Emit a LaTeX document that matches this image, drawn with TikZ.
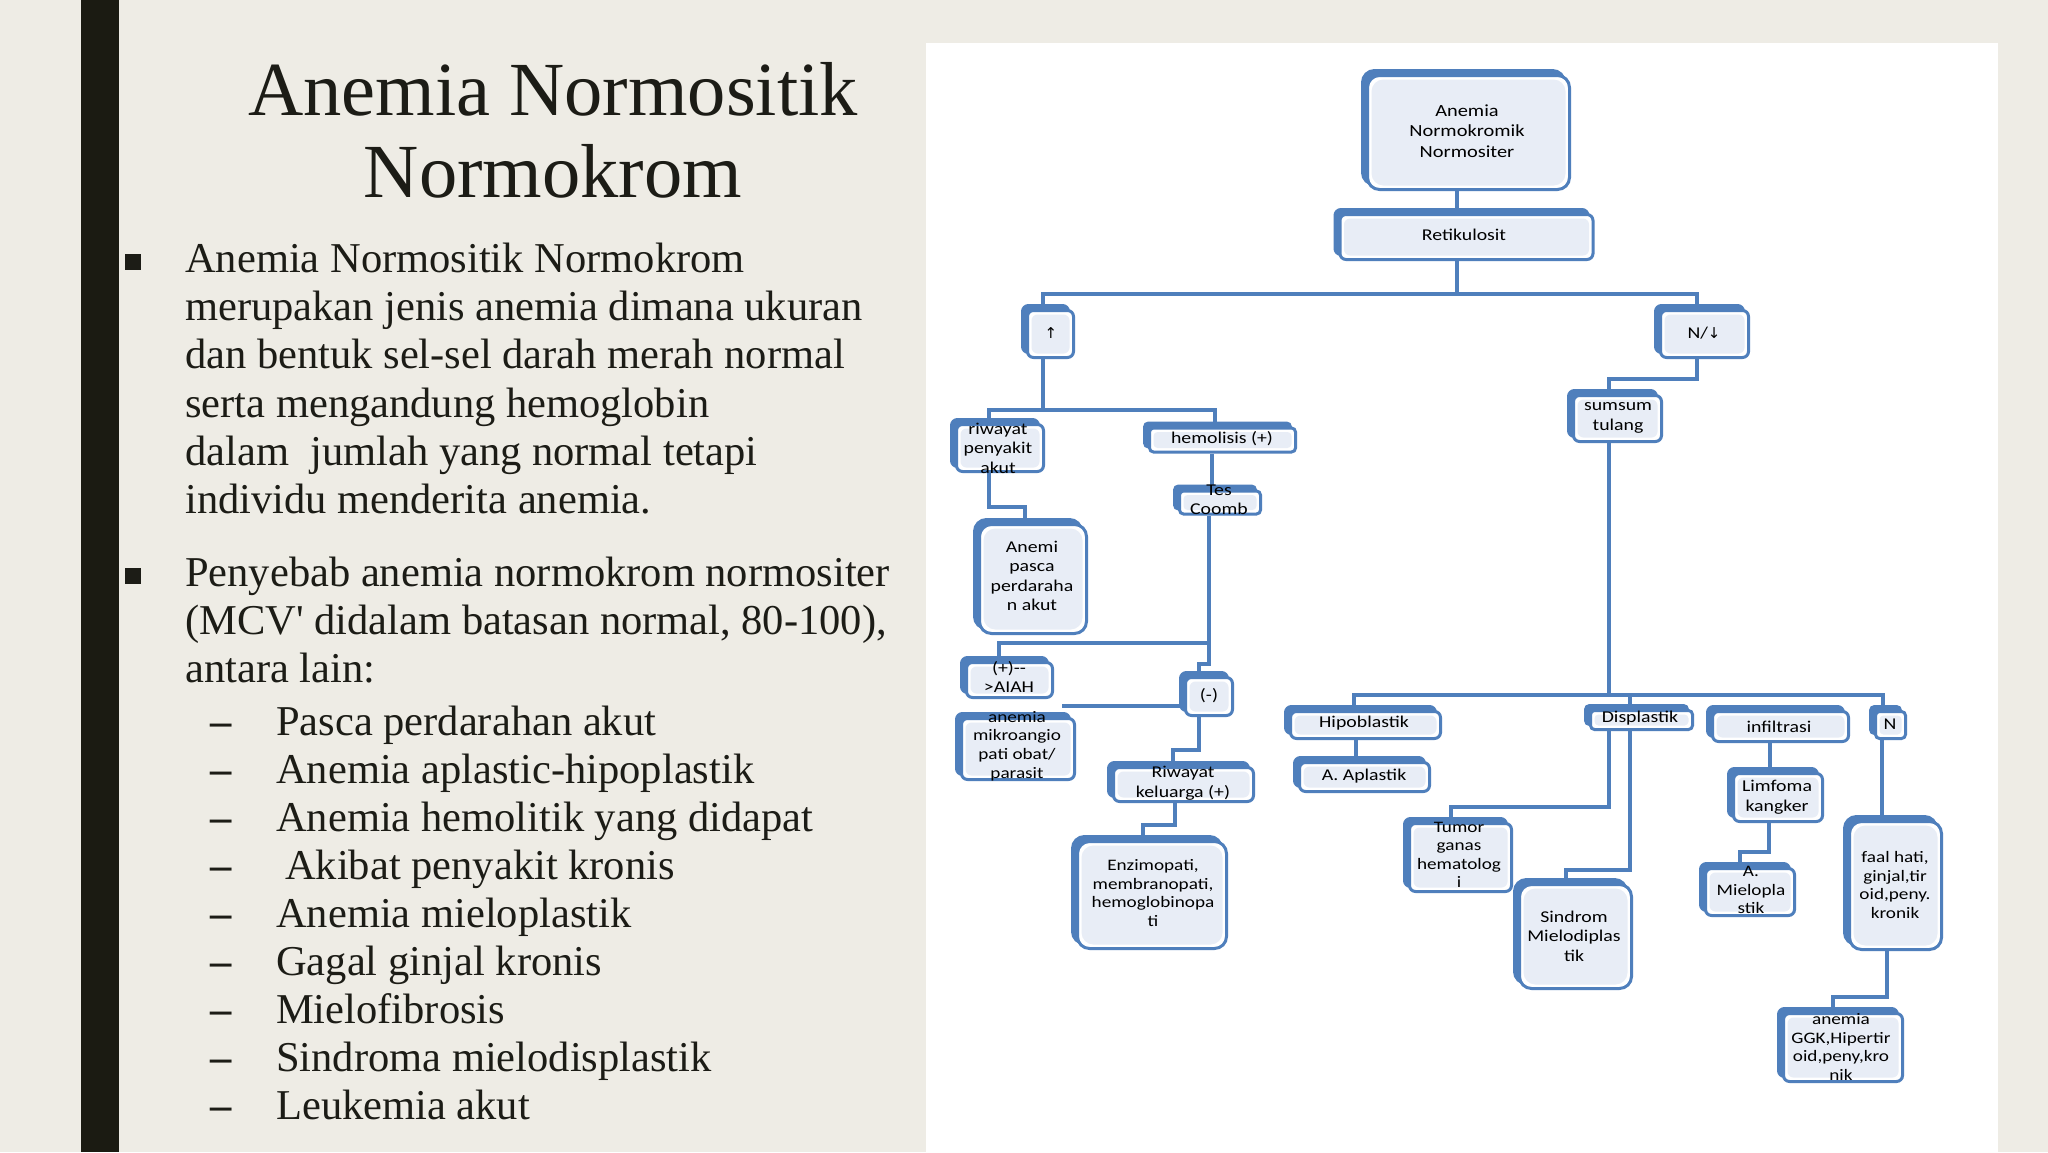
\documentclass[tikz,border=0pt]{standalone}
\usepackage{fontspec}
\setmainfont{Liberation Serif}
\newfontfamily\rawserif{Liberation Serif}
\newfontfamily\dfont[FakeStretch=1.2]{Carlito}
\newfontfamily\symfont{DejaVu Sans}
\usetikzlibrary{shadows}
\definecolor{bgc}{HTML}{EEECE5}
\definecolor{barc}{HTML}{1B1B12}
\definecolor{ink}{HTML}{1C1C16}
\definecolor{bblue}{HTML}{4F7FBC}
\definecolor{bfill}{HTML}{E8EDF6}
\pgfdeclarelayer{back}
\pgfdeclarelayer{lines}
\pgfsetlayers{back,lines,main}
\tikzset{
  box/.style={draw=bblue, line width=3pt, fill=white, rounded corners=#1, inner sep=0pt,
    general shadow={shadow xshift=-5pt, shadow yshift=5pt, fill=bblue, draw=bblue},
    path picture={\fill[bfill] ([shift={(4pt,-4pt)}]path picture bounding box.north west) rectangle ([shift={(-4pt,4pt)}]path picture bounding box.south east);}},
  box/.default=6pt,
  lbl/.style={inner sep=0pt, align=center, text=black, font=\dfont\fontsize{16.5}{19.5}\selectfont},
  conn/.style={draw=bblue, line width=4.5pt},
  body/.style={inner sep=0pt, anchor=base west, text=ink, font=\fontsize{42.5}{48}\selectfont},
  ttl/.style={inner sep=0pt, anchor=base, text=ink, font=\fontsize{76.5}{80}\selectfont},
}
\begin{document}
\begin{tikzpicture}[x=1pt,y=-1pt]
\useasboundingbox (0,0) rectangle (2048,1152);
\begin{pgfonlayer}{back}
\fill[bgc] (0,0) rectangle (2048,1152);
\fill[barc] (81,0) rectangle (119,1152);
\fill[white] (926,43) rectangle (1998,1152);
\end{pgfonlayer}

% ---- slide text ----
\node[ttl] (t1) at (553,115) {Anemia Normositik};
\node[ttl] (t2) at (553,197) {Normokrom};

\node[fill=ink, minimum size=16pt, inner sep=0pt] (bul1) at (133,262) {};
\node[body] (a1) at (185,272) {Anemia Normositik Normokrom};
\node[body] (a2) at (185,320) {merupakan jenis anemia dimana ukuran};
\node[body] (a3) at (185,368) {dan bentuk sel-sel darah merah normal};
\node[body] (a4) at (185,417) {serta mengandung hemoglobin};
\node[body] (a5) at (185,465) {dalam\ \ jumlah yang normal tetapi};
\node[body] (a6) at (185,513) {individu menderita anemia.};

\node[fill=ink, minimum size=16pt, inner sep=0pt] (bul2) at (133,576) {};
\node[body] (b1) at (185,586) {Penyebab anemia normokrom normositer};
\node[body] (b2) at (185,634) {(MCV{\rawserif'} didalam batasan normal, 80-100),};
\node[body] (b3) at (185,682) {antara lain:};

\foreach \i/\y/\t/\xx in {1/735/Pasca perdarahan akut/276,
  2/783/Anemia aplastic-hipoplastik/276,
  3/831/Anemia hemolitik yang didapat/276,
  4/879/Akibat penyakit kronis/285,
  5/927/Anemia mieloplastik/276,
  6/975/Gagal ginjal kronis/276,
  7/1023/Mielofibrosis/276,
  8/1071/Sindroma mielodisplastik/276,
  9/1119/Leukemia akut/276}{
  \node[body] (d\i) at (210,\y) {\textbf{–}};
  \node[body] (s\i) at (\xx,\y) {\t};
}

% ---- diagram boxes ----
\node[box=12pt, minimum width=202pt, minimum height=114pt] (top) at (1468.5,132.5) {};
\node[box, minimum width=253pt, minimum height=45pt] (retik) at (1466.5,237) {};
\node[box, minimum width=46pt, minimum height=47pt] (up) at (1050.5,334) {};
\node[box, minimum width=88pt, minimum height=47pt] (ndown) at (1704.5,334) {};
\node[box, minimum width=87pt, minimum height=47pt] (riw) at (1000,448) {};
\node[box=4pt, minimum width=146pt, minimum height=24pt] (hemo) at (1222.5,440) {};
\node[box=12pt, minimum width=107pt, minimum height=109pt] (pasca) at (1033,579) {};
\node[box=4pt, minimum width=81pt, minimum height=23pt] (tes) at (1220,502.5) {};
\node[box, minimum width=86pt, minimum height=35pt] (aiah) at (1009.5,680) {};
\node[box, minimum width=47pt, minimum height=38pt] (minus) at (1209,696.5) {};
\node[box, minimum width=113pt, minimum height=61pt] (mikro) at (1018,749) {};
\node[box, minimum width=140pt, minimum height=34pt] (rk) at (1183.5,784.5) {};
\node[box=12pt, minimum width=149pt, minimum height=107pt] (enz) at (1152,895) {};
\node[box, minimum width=88pt, minimum height=46pt] (sum) at (1617.5,418.5) {};
\node[box, minimum width=150pt, minimum height=27pt] (hipo) at (1365.5,725) {};
\node[box, minimum width=130pt, minimum height=29pt] (aplas) at (1364.5,777) {};
\node[box=4pt, minimum width=102pt, minimum height=19pt] (disp) at (1641.5,720) {};
\node[box, minimum width=136pt, minimum height=30pt] (infil) at (1780.5,726.5) {};
\node[box=4pt, minimum width=30pt, minimum height=27pt] (nn) at (1890.5,725) {};
\node[box, minimum width=102pt, minimum height=68pt] (tumor) at (1460.5,857.5) {};
\node[box=12pt, minimum width=112pt, minimum height=104pt] (sind) at (1575.5,936.5) {};
\node[box, minimum width=89pt, minimum height=48pt] (limf) at (1778,797.5) {};
\node[box, minimum width=89pt, minimum height=47pt] (amiel) at (1750,892) {};
\node[box=12pt, minimum width=92pt, minimum height=128pt] (faal) at (1895.5,885.5) {};
\node[box, minimum width=119pt, minimum height=68pt] (ggk) at (1843,1047.5) {};

% ---- labels ----
\node[lbl, font=\dfont\fontsize{17}{20.5}\selectfont] (topT) at (1467,131) {Anemia\\Normokromik\\Normositer};
\node[lbl] (retikT) at (1464,235) {Retikulosit};
\node[lbl, font=\symfont\fontsize{15}{18}\selectfont] (upT) at (1051,333) {↑};
\node[lbl] (ndownT) at (1704,333) {N/{\symfont\fontsize{15}{18}\selectfont↓}};
\node[lbl] (riwT) at (998,448) {riwayat\\penyakit\\akut};
\node[lbl] (hemoT) at (1222,439) {hemolisis (+)};
\node[lbl] (pascaT) at (1032,576) {Anemi\\pasca\\perdaraha\\n akut};
\node[lbl] (tesT) at (1219,500) {Tes\\Coomb};
\node[lbl] (aiahT) at (1009,677) {(+)--\\>AIAH};
\node[lbl] (minusT) at (1209,696) {(-)};
\node[lbl, font=\dfont\fontsize{16}{18.6}\selectfont] (mikroT) at (1017,746) {anemia\\mikroangio\\pati obat/\\parasit};
\node[lbl] (rkT) at (1183,783) {Riwayat\\keluarga (+)};
\node[lbl, font=\dfont\fontsize{16}{18.5}\selectfont] (enzT) at (1153,893) {Enzimopati,\\membranopati,\\hemoglobinopa\\ti};
\node[lbl] (sumT) at (1618,418) {sumsum\\tulang};
\node[lbl] (hipoT) at (1364,723) {Hipoblastik};
\node[lbl] (aplasT) at (1364,776) {A. Aplastik};
\node[lbl] (dispT) at (1640,718) {Displastik};
\node[lbl] (infilT) at (1779,727) {infiltrasi};
\node[lbl] (nnT) at (1890,724) {N};
\node[lbl, font=\dfont\fontsize{16}{18.3}\selectfont] (tumorT) at (1459,855) {Tumor\\ganas\\hematolog\\i};
\node[lbl] (sindT) at (1574,936) {Sindrom\\Mielodiplas\\tik};
\node[lbl] (limfT) at (1777,797) {Limfoma\\kangker};
\node[lbl, font=\dfont\fontsize{16}{18.3}\selectfont] (amielT) at (1751,890) {A.\\Mielopla\\stik};
\node[lbl, font=\dfont\fontsize{16}{18.5}\selectfont] (faalT) at (1895,885) {faal hati,\\ginjal,tir\\oid,peny.\\kronik};
\node[lbl, font=\dfont\fontsize{16}{18.5}\selectfont] (ggkT) at (1841,1047) {anemia\\GGK,Hipertir\\oid,peny,kro\\nik};

% ---- connectors ----
\begin{pgfonlayer}{lines}
\coordinate (j0) at (1457,294);
\coordinate (j0L) at (1043,294);
\coordinate (j0R) at (1697,294);
\draw[conn] (top.south -| j0) -- (retik.north -| j0);
\draw[conn] (retik.south -| j0) -- (j0);
\draw[conn] (up.north -| j0L) -- (j0L) -- (j0R) -- (ndown.north -| j0R);

\coordinate (j1) at (1043,410);
\coordinate (j1L) at (989,410);
\coordinate (j1R) at (1215,410);
\draw[conn] (up.south -| j1) -- (j1);
\draw[conn] (riw.north -| j1L) -- (j1L) -- (j1R) -- (hemo.north -| j1R);
\draw[conn] (riw.south -| j1L) |- (1025,507) -- (pasca.north -| 1025,0);
\draw[conn] (hemo.south -| 1212,0) -- (tes.north -| 1212,0);

\coordinate (j2) at (1209,643);
\coordinate (j2L) at (999,643);
\draw[conn] (tes.south -| j2) -- (1209,664) -- (1199,664) -- (minus.north -| 1199,0);
\draw[conn] (j2) -- (j2L) -- (aiah.north -| j2L);
\coordinate (mk) at (1062,706);
\draw[conn, line width=3.5pt] (minus.west |- mk) -- (mk);
\draw[conn] (minus.south -| 1199,0) |- (1173,750) -- (rk.north -| 1173,0);
\draw[conn] (rk.south -| 1175,0) |- (1143,825) -- (enz.north -| 1143,0);

\coordinate (j3) at (1609,695);
\coordinate (j3L) at (1354,695);
\coordinate (j3R) at (1883,695);
\draw[conn] (ndown.south -| j0R) |- (1609,379) -- (sum.north -| j3);
\draw[conn] (sum.south -| j3) -- (j3);
\draw[conn] (hipo.north -| j3L) -- (j3L) -- (j3R) -- (nn.north -| j3R);
\draw[conn] (1630,695) -- (disp.north -| 1630,0);
\draw[conn] (hipo.south -| 1356,0) -- (aplas.north -| 1356,0);
\draw[conn] (disp.south -| j3) |- (1451,807) -- (tumor.north -| 1451,0);
\draw[conn] (disp.south -| 1630,0) |- (1566,870) -- (sind.north -| 1566,0);
\draw[conn] (infil.south -| 1770,0) -- (limf.north -| 1770,0);
\draw[conn] (limf.south -| 1769,0) |- (1740,852) -- (amiel.north -| 1740,0);
\draw[conn] (nn.south -| 1882,0) -- (faal.north -| 1882,0);
\draw[conn] (faal.south -| 1887,0) |- (1833,997) -- (ggk.north -| 1833,0);
\end{pgfonlayer}
\end{tikzpicture}
\end{document}
